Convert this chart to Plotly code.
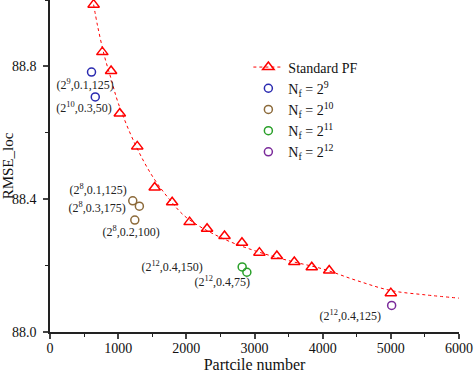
import plotly.graph_objects as go

# Standard PF
pf_x = [640, 768, 896, 1024, 1280, 1536, 1792, 2048, 2304, 2560, 2816, 3072, 3328, 3584, 3840, 4096, 5000]
pf_y = [88.986, 88.843, 88.786, 88.658, 88.559, 88.435, 88.391, 88.331, 88.311, 88.289, 88.269, 88.239, 88.229, 88.211, 88.195, 88.185, 88.117]

# fitted dotted curve
fit_x = [640, 700, 800, 900, 1000, 1250, 1500, 1750, 2000, 2500, 3000, 3500, 4000, 4500, 5000, 5500, 6000]
fit_y = [88.986, 88.92, 88.83, 88.76, 88.69, 88.565, 88.47, 88.40, 88.345, 88.285, 88.245, 88.215, 88.19, 88.155, 88.125, 88.112, 88.102]

nf9_x = [609, 664]
nf9_y = [88.783, 88.708]
nf10_x = [1214, 1311, 1244]
nf10_y = [88.395, 88.379, 88.337]
nf11_x = [2819, 2888]
nf11_y = [88.196, 88.180]
nf12_x = [5012]
nf12_y = [88.080]

label_text = ["(2<sup>9</sup>,0.1,125)", "(2<sup>10</sup>,0.3,50)", "(2<sup>8</sup>,0.1,125)",
              "(2<sup>8</sup>,0.3,175)", "(2<sup>8</sup>,0.2,100)", "(2<sup>12</sup>,0.4,150)",
              "(2<sup>12</sup>,0.4,75)", "(2<sup>12</sup>,0.4,125)"]
label_x = [514, 499, 705, 690, 1189, 1791, 2526, 4405]
label_y = [88.740, 88.671, 88.424, 88.370, 88.298, 88.192, 88.147, 88.045]

FONT = "Liberation Serif"

fig = go.Figure()
fig.add_trace(go.Scatter(x=fit_x, y=fit_y, mode="lines", line=dict(color="red", width=1, dash="dot", shape="spline"),
                         showlegend=False, hoverinfo="skip"))
fig.add_trace(go.Scatter(x=pf_x, y=pf_y, mode="markers", name="Standard PF", showlegend=False, cliponaxis=False,
                         marker=dict(symbol="triangle-up-open", size=10, color="red", line=dict(width=1.5))))
# legend entry with line + marker
fig.add_trace(go.Scatter(x=[None], y=[None], mode="lines+markers", name="Standard PF",
                         line=dict(color="red", width=1, dash="dot"),
                         marker=dict(symbol="triangle-up-open", size=10, color="red", line=dict(width=1.5))))

for xs, ys, col, nm in [(nf9_x, nf9_y, "#2a2ab0", "N<sub>f</sub> = 2<sup>9</sup>"),
                        (nf10_x, nf10_y, "#8c6a3a", "N<sub>f</sub> = 2<sup>10</sup>"),
                        (nf11_x, nf11_y, "#2aa02a", "N<sub>f</sub> = 2<sup>11</sup>"),
                        (nf12_x, nf12_y, "#7a2a9a", "N<sub>f</sub> = 2<sup>12</sup>")]:
    fig.add_trace(go.Scatter(x=xs, y=ys, mode="markers", name=nm,
                             marker=dict(symbol="circle-open", size=8, color=col, line=dict(width=1.5))))

fig.add_trace(go.Scatter(x=label_x, y=label_y, mode="text", text=label_text, showlegend=False, cliponaxis=False,
                         textfont=dict(family=FONT, size=12, color="#222"), hoverinfo="skip"))

fig.update_layout(
    width=474, height=374,
    margin=dict(l=50, r=15, t=0, b=42, autoexpand=False),
    paper_bgcolor="white", plot_bgcolor="white",
    font=dict(family=FONT, size=14, color="#111"),
    legend=dict(x=0.485, y=0.845, xanchor="left", yanchor="top", bgcolor="rgba(0,0,0,0)",
                font=dict(family=FONT, size=14), tracegroupgap=0, itemwidth=30),
    xaxis=dict(range=[0, 6000], tick0=0, dtick=1000, ticks="outside", ticklen=5, tickwidth=1.5,
               showline=True, linecolor="#222", linewidth=1.5, showgrid=False, zeroline=False,
               automargin=False, ticklabelstandoff=-3,
               minor=dict(dtick=500, ticks="outside", ticklen=3, tickwidth=1.2, tickcolor="#222"),
               title=dict(text="Partcile number", font=dict(size=16), standoff=2),
               tickfont=dict(size=14)),
    yaxis=dict(range=[88.0, 89.0], tick0=88.0, dtick=0.4, ticks="outside", ticklen=5, tickwidth=1.5,
               tickformat=".1f", automargin=False, ticklabelstandoff=4,
               showline=True, linecolor="#222", linewidth=1.5, showgrid=False, zeroline=False,
               minor=dict(dtick=0.2, ticks="outside", ticklen=3, tickwidth=1.2, tickcolor="#222"),
               title=dict(text="RMSE_loc", font=dict(size=15), standoff=2),
               tickfont=dict(size=14)),
)

fig.write_html("out.html", post_script="document.body.style.margin='0';",
               config={"displayModeBar": False})
